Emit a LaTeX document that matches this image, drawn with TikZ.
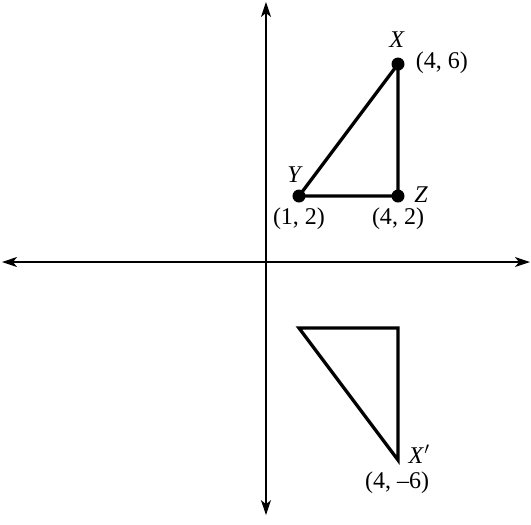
\documentclass[tikz,border=0pt]{standalone}
\usepackage{fontspec}
\setmainfont{Liberation Serif}
\usetikzlibrary{arrows.meta,positioning}
\tikzset{dot/.style={circle,fill,inner sep=0pt,minimum size=13pt}}
\tikzset{lbl/.style={inner sep=0pt,font=\fontsize{24}{28}\selectfont}}
\tikzset{axis/.style={line width=1.5pt}}
\tikzset{side/.style={line width=3.3pt,line join=miter}}

\begin{document}
\begin{tikzpicture}[x=33pt,y=33pt,>={Stealth[length=15pt,width=10pt,inset=4pt]}]
    \useasboundingbox (-8.06,-7.94) rectangle (8.03,7.94);

    % axes
    \coordinate (xl) at (-8,0);
    \coordinate (xr) at (8,0);
    \coordinate (yb) at (0,-7.67);
    \coordinate (yt) at (0,7.88);
    \draw [axis,<->] (xl) to (xr);
    \draw [axis,<->] (yb) to (yt);

    % triangle XYZ
    \node[dot] (x)at (4,6) {};
    \node[dot] (y)at (1,2) {};
    \node[dot] (z)at (4,2) {};
    \draw [side] (y.center) to (x.center) to (z.center) -- cycle;

    \node[lbl] (xn)at (3.97,6.73) {\textit{X}};
    \node[lbl] (xc)at (5.33,6.03) {(4, 6)};
    \node[lbl] (yn)at (0.88,2.64) {\textit{Y}};
    \node[lbl] (yc)at (1.0,1.30) {(1, 2)};
    \node[lbl] (zn)at (4.7,2.03) {\textit{Z}};
    \node[lbl] (zc)at (4.0,1.30) {(4, 2)};

    % image triangle
    \coordinate (y1) at (1,-2);
    \coordinate (z1) at (4,-2);
    \coordinate (x1) at (4,-6);
    \draw [side] (y1) to (z1) to (x1) -- cycle;

    \node[lbl] (x1n)at (4.64,-5.82) {\textit{X}\kern0.5pt$'$};
    \node[lbl] (x1c)at (3.97,-6.7) {(4, \textendash6)};
\end{tikzpicture}
\end{document}
